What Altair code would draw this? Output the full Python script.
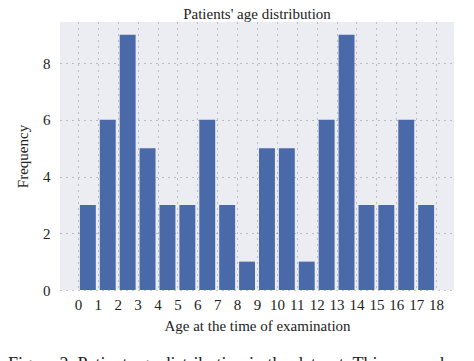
import altair as alt
import pandas as pd

ages = list(range(18))
counts = [3, 6, 9, 5, 3, 3, 6, 3, 1, 5, 5, 1, 6, 9, 3, 3, 6, 3]
x_ticks = list(range(19))
y_ticks = [0, 2, 4, 6, 8]
title_text = "Patients' age distribution"
x_title = "Age at the time of examination"
y_title = "Frequency"
caption = "Figure 2. Patient age distribution in the dataset. This research"

df = pd.DataFrame({"age": ages, "count": counts})
FONT = "Liberation Serif"

bars = alt.Chart(df).transform_calculate(
    start="datum.age + 0.1", end="datum.age + 0.9", base="0"
).mark_bar(color="#4A69A8").encode(
    x=alt.X("start:Q",
            scale=alt.Scale(domain=[-0.9, 18.9], nice=False, zero=False),
            axis=alt.Axis(values=x_ticks, title=x_title, grid=True,
                          gridDash=[1, 5], gridColor="#8a8a90", gridWidth=1,
                          domain=False, ticks=False, labelPadding=7,
                          labelFontSize=15, titleFontSize=15, titlePadding=6,
                          labelFont=FONT, titleFont=FONT, labelColor="#222",
                          titleColor="#222", titleFontWeight="normal",
                          labelFlush=False)),
    x2="end:Q",
    y=alt.Y("count:Q",
            scale=alt.Scale(domain=[0, 9.45], nice=False),
            axis=alt.Axis(values=y_ticks, title=y_title, grid=True,
                          gridDash=[1, 5], gridColor="#8a8a90", gridWidth=1,
                          domain=False, ticks=False, labelPadding=10,
                          labelFontSize=15, titleFontSize=15, titlePadding=12,
                          labelFont=FONT, titleFont=FONT, labelColor="#222",
                          titleColor="#222", titleFontWeight="normal",
                          labelFlush=False)),
    y2="base:Q",
)

cap = alt.Chart(pd.DataFrame({"t": [caption]})).mark_text(
    align="left", baseline="alphabetic", font=FONT, fontSize=18, color="#222"
).encode(text="t:N", x=alt.value(-52), y=alt.value(348))

chart = alt.layer(bars, cap).properties(
    width=394, height=268,
    title=alt.TitleParams(title_text, font=FONT, fontSize=15,
                          fontWeight="normal", color="#222", offset=0),
    autosize=alt.AutoSizeParams(type="none"),
    padding={"left": 52, "top": 14, "right": 12, "bottom": 72},
).configure_view(fill="#ECECF3", stroke=None)

chart.save("out.html", embed_options={"renderer": "svg", "actions": False})
